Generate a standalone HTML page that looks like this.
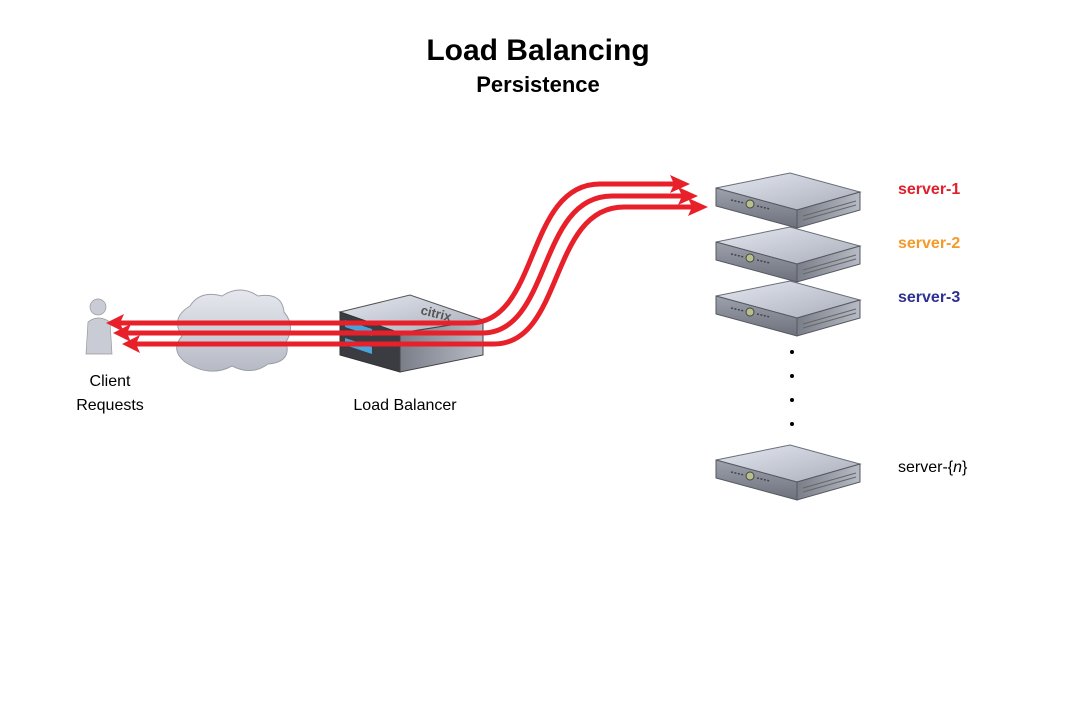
<!DOCTYPE html>
<html><head><meta charset="utf-8"><style>
html,body{margin:0;padding:0;background:#fff;}
svg{display:block;font-family:"Liberation Sans",sans-serif;}
</style></head><body>
<svg width="1080" height="718" viewBox="0 0 1080 718" xmlns="http://www.w3.org/2000/svg">
<defs>
<linearGradient id="top" x1="0" y1="0" x2="1" y2="1"><stop offset="0" stop-color="#e4e7ef"/><stop offset="1" stop-color="#a9aebb"/></linearGradient>
<linearGradient id="front" x1="0" y1="0" x2="0" y2="1"><stop offset="0" stop-color="#9ca1ad"/><stop offset="1" stop-color="#6d717c"/></linearGradient>
<linearGradient id="side" x1="0" y1="0" x2="1" y2="0"><stop offset="0" stop-color="#7a7e89"/><stop offset="1" stop-color="#b7bbc5"/></linearGradient>
<linearGradient id="cloud" x1="0" y1="0" x2="0" y2="1"><stop offset="0" stop-color="#e6e8ee"/><stop offset="1" stop-color="#b6bac4"/></linearGradient>
<g id="srv">
<polygon points="716,188 790,173 860,192 797,210" fill="url(#top)" stroke="#6a6e78" stroke-width="1"/>
<polygon points="716,188 797,210 797,228 716,206" fill="url(#front)" stroke="#55585f" stroke-width="1"/>
<polygon points="797,210 860,192 860,210 797,228" fill="url(#side)" stroke="#55585f" stroke-width="1"/>
<circle cx="750" cy="204" r="4" fill="#b8c08a" stroke="#444" stroke-width="1"/>
<line x1="731" y1="200" x2="744" y2="203" stroke="#444" stroke-width="1.5" stroke-dasharray="2 1.5"/>
<line x1="757" y1="206" x2="770" y2="209" stroke="#444" stroke-width="1.5" stroke-dasharray="2 1.5"/>
<line x1="803" y1="216" x2="856" y2="201" stroke="#666" stroke-width="1"/>
<line x1="803" y1="220" x2="856" y2="205" stroke="#666" stroke-width="1"/>
</g>
</defs>
<text x="538" y="60" text-anchor="middle" font-size="30" font-weight="bold">Load Balancing</text>
<text x="538" y="92" text-anchor="middle" font-size="22" font-weight="bold">Persistence</text>

<use href="#srv"/>
<use href="#srv" y="54"/>
<use href="#srv" y="108"/>
<use href="#srv" y="272"/>
<g fill="#000"><circle cx="792" cy="352" r="2"/><circle cx="792" cy="376" r="2"/><circle cx="792" cy="400" r="2"/><circle cx="792" cy="424" r="2"/></g>
<text x="898" y="194" font-size="16" font-weight="bold" fill="#e0202a">server-1</text>
<text x="898" y="248" font-size="16" font-weight="bold" fill="#f39a2b">server-2</text>
<text x="898" y="302" font-size="16" font-weight="bold" fill="#2e3192">server-3</text>
<text x="898" y="472" font-size="16">server-{<tspan font-style="italic">n</tspan>}</text>

<!-- person -->
<circle cx="98" cy="307" r="8" fill="#c9ccd4" stroke="#999" stroke-width="0.7"/>
<path d="M86 354 L88 322 Q98 314 110 322 L112 354 Z" fill="#c9ccd4" stroke="#999" stroke-width="0.7"/>
<!-- cloud -->
<path d="M185 362 Q170 350 182 336 Q170 318 190 306 Q200 290 222 296 Q240 284 258 296 Q282 292 284 312 Q296 326 286 342 Q292 362 268 364 Q252 376 232 366 Q210 378 185 362 Z" fill="url(#cloud)" stroke="#9aa0aa" stroke-width="1"/>
<!-- load balancer -->
<polygon points="340,312 410,295 483,320 400,333" fill="url(#top)" stroke="#555" stroke-width="1"/>
<polygon points="340,312 400,333 400,372 340,355" fill="#3a3c42" stroke="#333" stroke-width="1"/>
<polygon points="400,333 483,320 483,355 400,372" fill="url(#side)" stroke="#444" stroke-width="1"/>
<polygon points="345,320 372,329 372,336 345,327" fill="#4aa3d8"/>
<polygon points="345,338 372,347 372,354 345,345" fill="#4aa3d8"/>
<text x="420" y="314" font-size="13" font-weight="bold" fill="#555" transform="rotate(14 420 314)">citrix</text>

<!-- arrows -->
<g fill="none" stroke="#e8202a" stroke-width="5">
<path d="M118 323 L470 323 C540 323 525 184 600 184 L675 184"/>
<path d="M126 333 L482 333 C552 333 537 196 612 196 L684 196"/>
<path d="M134 344 L494 344 C564 344 549 207 624 207 L693 207"/>
</g>
<g fill="#e8202a">
<polygon points="106,323 124,314 120,323 124,332"/>
<polygon points="113,333 131,324 127,333 131,342"/>
<polygon points="122,344 140,335 136,344 140,353"/>
<polygon points="690,184 670,175 674,184 670,193"/>
<polygon points="698,196 678,187 682,196 678,205"/>
<polygon points="708,207 688,198 692,207 688,216"/>
</g>

<text x="110" y="386" text-anchor="middle" font-size="16">Client</text>
<text x="110" y="410" text-anchor="middle" font-size="16">Requests</text>
<text x="405" y="410" text-anchor="middle" font-size="16">Load Balancer</text>
</svg>
</body></html>
